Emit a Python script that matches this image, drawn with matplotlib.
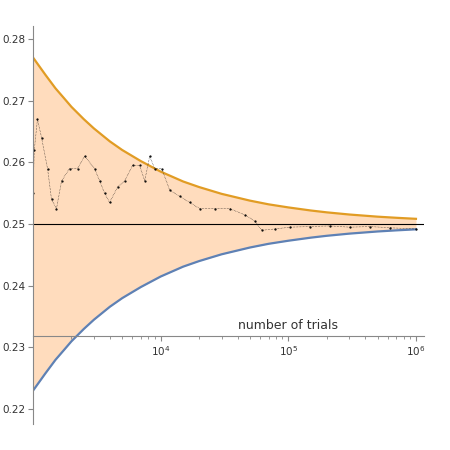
import numpy as np
import matplotlib
matplotlib.use("Agg")
import matplotlib.pyplot as plt

# envelope: trials and half-width around 0.25
env_n = [1000, 1250, 1500, 1750, 2000, 2500, 3000, 4000, 5000, 7000, 1e4, 1.5e4,
         2e4, 3e4, 5e4, 7e4, 1e5, 1.5e5, 2e5, 3e5, 5e5, 7e5, 1e6]
env_dev = [.0270, .0242, .0220, .0204, .0190, .0170, .0155, .0134, .0120, .0102,
           .0085, .0069, .0060, .0049, .0038, .0032, .0027, .0022, .0019, .00155,
           .0012, .00102, .00085]
center = 0.25

# running estimate, log10(trials) and value
trace_logn = [3.0, 3.01, 3.035, 3.067, 3.114, 3.145, 3.184, 3.224, 3.286, 3.349,
              3.404, 3.482, 3.522, 3.561, 3.6, 3.663, 3.718, 3.78, 3.835, 3.875,
              3.914, 3.953, 4.008, 4.071, 4.149, 4.227, 4.306, 4.424, 4.541, 4.659,
              4.737, 4.792, 4.894, 5.012, 5.169, 5.325, 5.482, 5.639, 5.796, 6.0]
trace_val = [0.255, 0.262, 0.267, 0.264, 0.259, 0.254, 0.2525, 0.257, 0.259, 0.259,
             0.261, 0.259, 0.257, 0.255, 0.2535, 0.256, 0.257, 0.2595, 0.2595, 0.257,
             0.261, 0.259, 0.259, 0.2555, 0.2545, 0.2535, 0.2525, 0.2525, 0.2525, 0.2515,
             0.2505, 0.249, 0.2492, 0.2495, 0.2496, 0.2497, 0.2495, 0.2496, 0.2494, 0.2492]

n = np.array(env_n)
dev = np.array(env_dev)
upper = center + dev
lower = center - dev

fig = plt.figure(figsize=(4.5, 4.5), dpi=100)
ax = fig.add_axes([33 / 450, 26 / 450, (424 - 33) / 450, (424 - 26) / 450])
ax.set_xscale("log")

ax.fill_between(n, lower, upper, color="#ffdcbd", lw=0)
ax.plot(n, upper, color="#e19c24", lw=1.6)
ax.plot(n, lower, color="#5e81b5", lw=1.6)
ax.axhline(center, color="black", lw=0.8)
ax.plot(10 ** np.array(trace_logn), trace_val, color="black", lw=0.4,
        ls=":", marker=".", ms=1.2)

ax.set_xlim(1000, 10 ** 6.063)
ax.set_ylim(0.2176, 0.2821)
ax.spines["top"].set_visible(False)
ax.spines["right"].set_visible(False)
ax.spines["bottom"].set_position(("data", 0.2318))
for s in ("left", "bottom"):
    ax.spines[s].set_color("#888888")
ax.tick_params(colors="#888888", labelcolor="#333333", labelsize=7.5,
               pad=2, which="both")
ax.set_yticks([0.22, 0.23, 0.24, 0.25, 0.26, 0.27, 0.28])
ax.set_xticks([1e4, 1e5, 1e6])
ax.text(10 ** 5.0, 0.2325, "number of trials", ha="center", va="bottom",
        fontsize=9, color="#333333")

fig.savefig("out.png", dpi=100)
